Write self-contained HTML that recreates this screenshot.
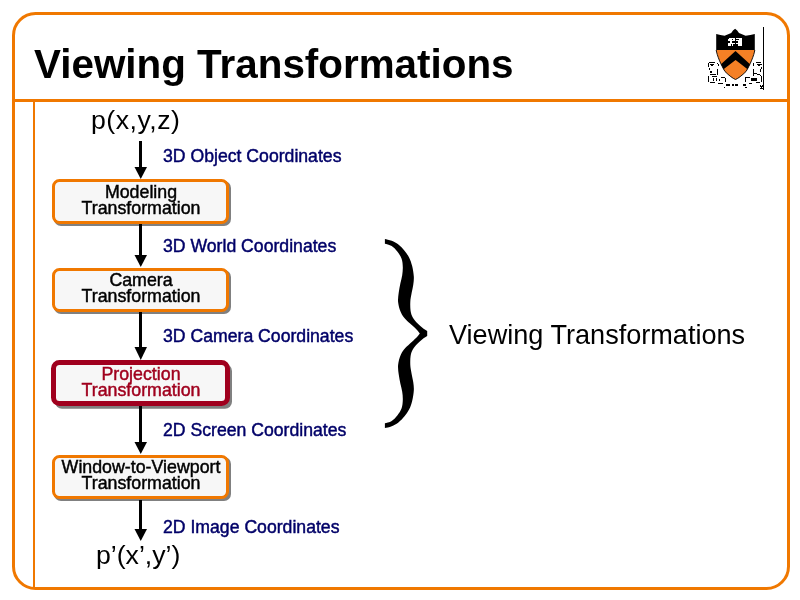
<!DOCTYPE html>
<html><head><meta charset="utf-8">
<style>
html,body{margin:0;padding:0;background:#fff;width:800px;height:600px;overflow:hidden;position:relative}
.t{position:absolute;font-family:"Liberation Sans",sans-serif;white-space:pre;line-height:1;will-change:transform}
svg{position:absolute;left:0;top:0}
.lab{color:#000068;font-size:17.65px;left:163px;-webkit-text-stroke:0.45px currentColor}
.bx{width:180px;left:50.5px;text-align:center;font-size:17.8px;color:#000;line-height:16px;-webkit-text-stroke:0.45px currentColor}
</style></head><body>
<svg width="800" height="600" viewBox="0 0 800 600">
  <g fill="none" stroke="#F07800">
    <rect x="13.5" y="13.5" width="775" height="575" rx="22" ry="22" stroke-width="3"/>
    <line x1="13.5" y1="100.5" x2="788.5" y2="100.5" stroke-width="3"/>
    <line x1="34" y1="100" x2="34" y2="588" stroke-width="2"/>
  </g>
  <g fill="#808080">
    <rect x="54" y="181" width="177" height="45" rx="7"/>
    <rect x="54" y="270" width="177" height="44" rx="7"/>
    <rect x="55" y="364" width="177" height="44.7" rx="7"/>
    <rect x="54" y="457" width="177" height="44" rx="7"/>
  </g>
  <g fill="#F7F7F7" stroke="#F07800" stroke-width="3">
    <rect x="53.5" y="180.5" width="174" height="42" rx="6"/>
    <rect x="53.5" y="269.5" width="174" height="41" rx="6"/>
    <rect x="53.5" y="456.5" width="174" height="41" rx="6"/>
  </g>
  <rect x="53.5" y="362.5" width="174" height="41" rx="6" fill="#F7F7F7" stroke="#A0001E" stroke-width="5"/>
  <g fill="#000">
    <rect x="139" y="141" width="3" height="27"/><path d="M134.5 167 L147 167 L140.75 179 Z"/>
    <rect x="139" y="224" width="3" height="32"/><path d="M134.5 255 L147 255 L140.75 267 Z"/>
    <rect x="139" y="312" width="3" height="36"/><path d="M134.5 347 L147 347 L140.75 360 Z"/>
    <rect x="139" y="406" width="3" height="37"/><path d="M134.5 442 L147 442 L140.75 454 Z"/>
    <rect x="139" y="500" width="3" height="30"/><path d="M134.5 529 L147 529 L140.75 541 Z"/>
  </g>
  <path fill="#000" d="M384.9 239.0 C386.0 239.3 389.4 239.8 391.7 240.8 C394.0 241.8 396.6 243.2 398.7 244.8 C400.8 246.5 402.8 248.5 404.5 250.7 C406.2 252.8 407.9 255.2 409.2 257.7 C410.5 260.2 411.3 262.7 412.1 265.8 C412.9 268.9 413.6 273.2 413.8 276.3 C414.0 279.4 413.7 281.6 413.3 284.5 C412.9 287.4 412.0 290.9 411.5 293.8 C411.0 296.7 410.4 299.1 410.3 302.0 C410.2 304.9 410.2 308.4 410.6 311.0 C411.0 313.6 411.7 315.4 412.8 317.5 C413.9 319.6 415.8 321.6 417.4 323.3 C419.0 325.1 421.1 326.7 422.7 328.0 C424.3 329.3 426.4 330.5 427.2 331.0 L427.2 336 C426.4 336.5 424.3 337.7 422.7 339.0 C421.1 340.3 419.0 341.9 417.4 343.7 C415.8 345.4 413.9 347.4 412.8 349.5 C411.7 351.6 411.0 353.4 410.6 356.0 C410.2 358.6 410.2 362.1 410.3 365.0 C410.4 367.9 411.0 370.3 411.5 373.2 C412.0 376.1 412.9 379.6 413.3 382.5 C413.7 385.4 414.0 387.6 413.8 390.7 C413.6 393.8 412.9 398.1 412.1 401.2 C411.3 404.3 410.5 406.8 409.2 409.3 C407.9 411.8 406.2 414.2 404.5 416.3 C402.8 418.4 400.8 420.6 398.7 422.2 C396.6 423.8 394.0 425.2 391.7 426.2 C389.4 427.2 386.0 427.7 384.9 428.0 L384.9 423.3 C386.0 422.9 389.6 422.4 391.7 421.0 C393.8 419.6 395.9 417.3 397.5 415.2 C399.1 413.1 400.7 410.7 401.6 408.2 C402.5 405.7 402.7 402.7 402.8 400.0 C402.9 397.3 402.6 394.5 402.2 391.8 C401.8 389.1 401.0 386.6 400.4 383.7 C399.8 380.8 399.1 377.4 398.7 374.3 C398.3 371.2 397.8 368.1 398.1 365.0 C398.4 361.9 399.3 358.6 400.3 356.0 C401.3 353.4 402.4 351.6 404.0 349.5 C405.6 347.4 407.8 345.6 409.8 343.7 C411.9 341.8 414.6 339.5 416.3 337.8 C418.0 336.1 419.2 334.2 419.8 333.5 C419.2 332.8 418.0 330.9 416.3 329.2 C414.6 327.5 411.9 325.2 409.8 323.3 C407.8 321.4 405.6 319.6 404.0 317.5 C402.4 315.4 401.3 313.6 400.3 311.0 C399.3 308.4 398.4 305.1 398.1 302.0 C397.8 298.9 398.3 295.8 398.7 292.7 C399.1 289.6 399.8 286.2 400.4 283.3 C401.0 280.4 401.8 277.9 402.2 275.2 C402.6 272.5 402.9 269.7 402.8 267.0 C402.7 264.3 402.5 261.3 401.6 258.8 C400.7 256.3 399.1 253.9 397.5 251.8 C395.9 249.7 393.8 247.3 391.7 246.0 C389.6 244.7 386.0 244.1 384.9 243.7 Z"/>
  <!-- logo -->
  <defs><clipPath id="sh"><path d="M716.2 49 L754.8 49 L754.8 50 C754.2 55 750 65 746 71.5 C742 75.5 738 78.5 735.5 79.5 C733 78.5 729 75.5 725 71.5 C721 65 716.8 55 716.2 50 Z"/></clipPath></defs>
  <path fill="#000" d="M716.2 33.9 L720.4 35.1 L724.6 35.7 L727.6 34.5 L731.2 33 L733 30.6 L735.1 28.8 L737.2 30.6 L739 33 L742.6 34.5 L745.6 35.7 L750.4 35.1 L754.8 33.9 L754.8 50.3 L716.2 50.3 Z"/>
  <g clip-path="url(#sh)">
    <rect x="710" y="50" width="50" height="35" fill="#F58025"/>
    <path d="M735.5 51 L711 73.3 L711 78.8 L735.6 60 L760 78.8 L760 73.3 Z" fill="#000"/>
  </g>
  <path fill="none" stroke="#000" stroke-width="0.9" d="M754.8 50 C754.2 55 750 65 746 71.5 C742 75.5 738 78.5 735.5 79.5 C733 78.5 729 75.5 725 71.5 C721 65 716.8 55 716.2 50"/>
  <g fill="#fff" shape-rendering="crispEdges">
    <rect x="729" y="38" width="6" height="1"/><rect x="728" y="39" width="7" height="2"/><rect x="730" y="41" width="2" height="2"/><rect x="728" y="43" width="7" height="1"/><rect x="728" y="44" width="3" height="2"/><rect x="732" y="44" width="1" height="2"/>
    <rect x="736" y="38" width="6" height="1"/><rect x="739" y="39" width="3" height="1"/><rect x="736" y="40" width="6" height="1"/><rect x="738" y="41" width="4" height="2"/><rect x="736" y="43" width="6" height="1"/><rect x="738" y="44" width="4" height="2"/>
  </g>
  <rect x="732" y="39" width="1" height="1" fill="#000" shape-rendering="crispEdges"/>
  <g fill="none" stroke="#000" stroke-width="1" shape-rendering="crispEdges">
    <path d="M709 62.5 H715 M708.5 63 V67 M710 64.5 H714 M711 65.5 H713 M717.5 63 V64 M718.5 64 V66 M709.5 67.5 V70 M717.5 69 V75 M710 74.5 H716 M712 76.5 H717 M708.5 76 V82 M710 82.5 H715 M713.5 78 V81 M716.5 78 V81 M719.5 78.5 V81 M721 77.5 H725 M725.5 77.5 V81.5 M718 83.5 H723"/>
    <path d="M756 62.5 H761 M753.5 63 V66 M757 64.5 H762 M758 65.5 H760 M761.5 67 V69 M760.5 69 V72 M753.5 69 V76 M754 73.5 H757 M757 74.5 H760 M760.5 75 V76 M761.5 76 V82 M745.5 77.5 V81.5 M745 77.5 H749.5 M756 82.5 H760 M748.5 83.5 H752"/>
    <path d="M763.5 27 V90"/>
  </g>
  <g fill="#000" shape-rendering="crispEdges">
    <rect x="710" y="71" width="2" height="2"/>
    <rect x="751" y="78" width="6" height="3"/>
    <rect x="726" y="84" width="4" height="2"/><rect x="732" y="84" width="2" height="2"/><rect x="735" y="84" width="3" height="2"/><rect x="743" y="84" width="3" height="2"/>
    <rect x="724" y="87" width="1" height="1"/><rect x="745" y="87" width="2" height="1"/>
    <rect x="760" y="85" width="1" height="1"/><rect x="762" y="85" width="1" height="1"/><rect x="760" y="86" width="3" height="1"/><rect x="761" y="87" width="1" height="1"/><rect x="760" y="88" width="3" height="1"/>
  </g>
</svg>
<div class="t" style="left:34px;top:43.8px;font-size:40.4px;font-weight:bold">Viewing Transformations</div>
<div class="t" style="left:91px;top:107.3px;font-size:26.67px;letter-spacing:0.5px">p(x,y,z)</div>
<div class="t lab" style="top:148.1px">3D Object Coordinates</div>
<div class="t lab" style="top:238.1px">3D World Coordinates</div>
<div class="t lab" style="top:328.1px">3D Camera Coordinates</div>
<div class="t lab" style="top:422.4px">2D Screen Coordinates</div>
<div class="t lab" style="top:519.1px">2D Image Coordinates</div>
<div class="t bx" style="top:184.4px">Modeling
Transformation</div>
<div class="t bx" style="top:272.4px">Camera
Transformation</div>
<div class="t bx" style="top:366.4px;color:#A0001E">Projection
Transformation</div>
<div class="t bx" style="top:459.4px">Window-to-Viewport
Transformation</div>
<div class="t" style="left:448.5px;top:320.5px;font-size:27.1px">Viewing Transformations</div>
<div class="t" style="left:96px;top:541.5px;font-size:26.67px">p’(x’,y’)</div>
</body></html>
